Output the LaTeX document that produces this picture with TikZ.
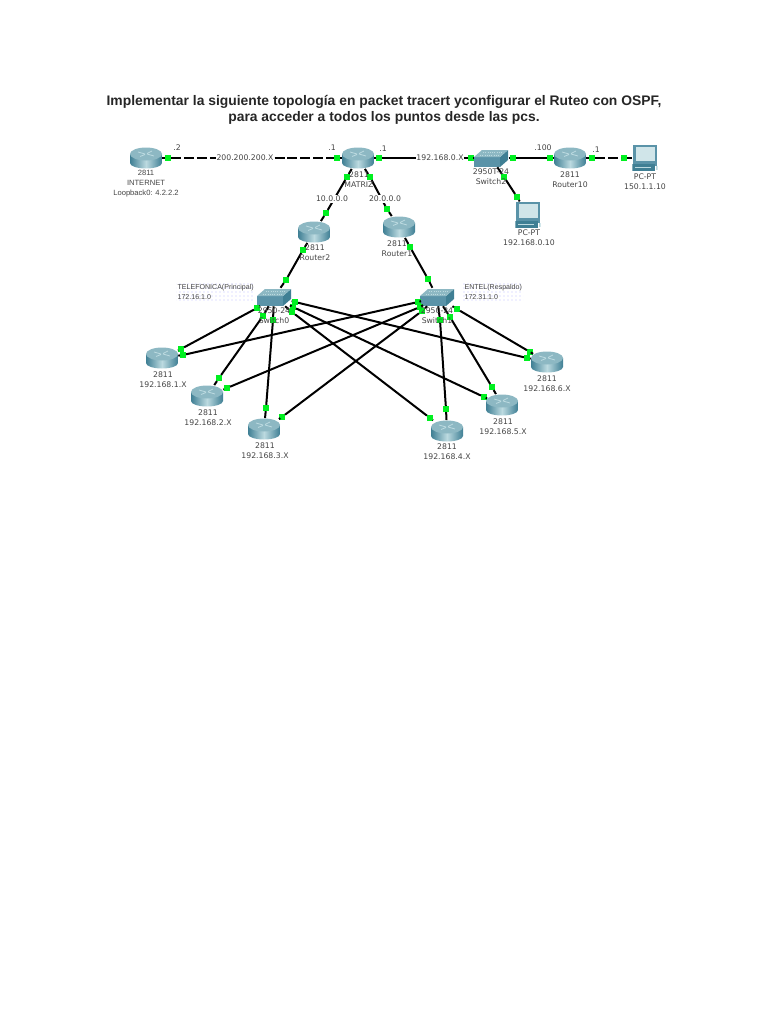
\documentclass[tikz,border=0pt]{standalone}
\usepackage{fontspec}
\setmainfont{DejaVu Sans}
\newfontfamily\titlefont{Liberation Sans}
\usetikzlibrary{patterns}

\definecolor{tealdark}{HTML}{3F7F94}
\definecolor{teallight}{HTML}{BCDAE0}
\definecolor{tealtop}{HTML}{8DB8C3}
\definecolor{tealface}{HTML}{5A93A8}
\definecolor{portgreen}{HTML}{00F020}
\definecolor{lblgray}{HTML}{444444}

\newcommand{\routerpic}{
	\begin{scope}[shift={(path picture bounding box.center)}]
		\shade[left color=tealdark, right color=tealdark, middle color=teallight]
			(-16,-4) -- (-16,5) arc[start angle=180, end angle=0, x radius=16, y radius=5.5] -- (16,-4) -- cycle;
		\fill[tealtop] (0,-4) ellipse[x radius=16, y radius=6.5];
		\draw[teallight, line width=.6pt] (-8,-6) -- (-1,-4) (1,-4) -- (8,-2) (-6,-1.5) -- (-1,-3.5) (1,-4.5) -- (6,-7);
	\end{scope}
}
\newcommand{\switchpic}{
	\begin{scope}[shift={(path picture bounding box.center)}]
		\fill[tealface] (-17,-1) -- (9,-1) -- (9,9) -- (-17,9) -- cycle;
		\fill[tealdark] (9,-1) -- (17,-8) -- (17,2) -- (9,9) -- cycle;
		\fill[tealtop] (-17,-1) -- (-9,-8) -- (17,-8) -- (9,-1) -- cycle;
		\draw[teallight, densely dotted, line width=.7pt] (-11,-3) -- (9,-3) (-8,-6) -- (12,-6);
	\end{scope}
}
\newcommand{\pcpic}{
	\begin{scope}[shift={(path picture bounding box.center)}]
		\fill[tealface] (-12,-13) -- (12,-13) -- (12,8) -- (-12,8) -- cycle;
		\fill[teallight!70!white] (-9,-11) -- (10,-11) -- (10,3) -- (-9,3) -- cycle;
		\fill[tealdark] (-13,6) -- (10,6) -- (10,13) -- (-13,13) -- cycle;
		\fill[teallight] (-10,8.5) -- (6,8.5) -- (6,10) -- (-10,10) -- cycle;
		\fill[teallight] (11,8) -- (15,8) -- (15,12) -- (11,12) -- cycle;
	\end{scope}
}

\begin{document}
\begin{tikzpicture}[x=.75pt, y=-.75pt]
	\tikzset{
		router/.style={rectangle, inner sep=0pt, minimum width=24pt, minimum height=16pt, path picture={\routerpic}},
		switchbox/.style={rectangle, inner sep=0pt, minimum width=26pt, minimum height=13.5pt, path picture={\switchpic}},
		pcbox/.style={rectangle, inner sep=0pt, minimum width=19pt, minimum height=20pt, path picture={\pcpic}},
		port/.style={rectangle, fill=portgreen, inner sep=0pt, minimum size=4.2pt},
		link/.style={black, line width=1.5pt},
		dashlink/.style={link, dash pattern=on 7.5pt off 2.2pt},
		lbl/.style={font=\fontsize{5.8}{7.5}\selectfont, text=lblgray, align=center, inner sep=0pt},
		thinlbl/.style={lbl, font=\titlefont\fontsize{5.7}{7.5}\selectfont},
		netlbl/.style={lbl, fill=white, inner sep=.7pt},
		note/.style={lbl, font=\titlefont\fontsize{5.3}{7.5}\selectfont, align=left, anchor=west, inner sep=1pt, pattern=dots, pattern color=blue!25},
		heading/.style={font=\titlefont\bfseries\fontsize{10.4}{12.2}\selectfont, text=black!85, align=center, inner sep=0pt}
	}
	\useasboundingbox (0,0) rectangle (768,1024);

	\node[heading] (title) at (384,109.5) {Implementar la siguiente topología en packet tracert yconfigurar el Ruteo con OSPF,\\para acceder a todos los puntos desde las pcs.};

	% devices
	\node[router] (inet) at (146,158) {};
	\node[router] (matriz) at (358,158) {};
	\node[router] (rtwo) at (314,232) {};
	\node[router] (rone) at (399,227) {};
	\node[router] (rten) at (570,158) {};
	\node[switchbox] (swtwo) at (491,158) {};
	\node[switchbox] (swzero) at (274,297) {};
	\node[switchbox] (swone) at (437,297) {};
	\node[pcbox] (pcright) at (645,158) {};
	\node[pcbox] (pclow) at (528,215) {};
	\node[router] (lan1) at (162,358) {};
	\node[router] (lan2) at (207,396) {};
	\node[router] (lan3) at (264,429) {};
	\node[router] (lan4) at (447,431) {};
	\node[router] (lan5) at (502,405) {};
	\node[router] (lan6) at (547,362) {};

	% ports
	\node[port] (pa1) at (168,158) {};
	\node[port] (pa2) at (337,158) {};
	\node[port] (pb1) at (379,158) {};
	\node[port] (pb2) at (471,158) {};
	\node[port] (pc1) at (513,158) {};
	\node[port] (pc2) at (550,158) {};
	\node[port] (pd1) at (592,158) {};
	\node[port] (pd2) at (624,158) {};
	\node[port] (pe1) at (504,177) {};
	\node[port] (pe2) at (517,197) {};
	\node[port] (pf1) at (347,177) {};
	\node[port] (pf2) at (326,213) {};
	\node[port] (pg1) at (370,177) {};
	\node[port] (pg2) at (387,209) {};
	\node[port] (ph1) at (303,250) {};
	\node[port] (ph2) at (286,280) {};
	\node[port] (pi1) at (410,247) {};
	\node[port] (pi2) at (428,279) {};

	\node[port] (z1) at (257,308) {};
	\node[port] (z2) at (263,316) {};
	\node[port] (z3) at (273,320) {};
	\node[port] (z4) at (292,312) {};
	\node[port] (z5) at (293,307) {};
	\node[port] (z6) at (295,302) {};
	\node[port] (o1) at (418,302) {};
	\node[port] (o2) at (420,307) {};
	\node[port] (o3) at (422,311) {};
	\node[port] (o4) at (440,320) {};
	\node[port] (o5) at (450,317) {};
	\node[port] (o6) at (457,309) {};

	\node[port] (a1) at (181,349) {};
	\node[port] (b1) at (183,355) {};
	\node[port] (a2) at (219,378) {};
	\node[port] (b2) at (227,388) {};
	\node[port] (a3) at (266,408) {};
	\node[port] (b3) at (282,417) {};
	\node[port] (a4) at (430,418) {};
	\node[port] (b4) at (446,409) {};
	\node[port] (a5) at (484,397) {};
	\node[port] (b5) at (492,387) {};
	\node[port] (a6) at (527,358) {};
	\node[port] (b6) at (530,352) {};

	% links
	\draw[dashlink] (inet) -- (pa1) -- (pa2) -- (matriz);
	\draw[link] (matriz) -- (pb1) -- (pb2) -- (swtwo);
	\draw[link] (swtwo) -- (pc1) -- (pc2) -- (rten);
	\draw[dashlink] (rten) -- (pd1) -- (pd2) -- (pcright);
	\draw[link] (swtwo) -- (pe1) -- (pe2) -- (pclow);
	\draw[link] (matriz) -- (pf1) -- (pf2) -- (rtwo);
	\draw[link] (matriz) -- (pg1) -- (pg2) -- (rone);
	\draw[link] (rtwo) -- (ph1) -- (ph2) -- (swzero);
	\draw[link] (rone) -- (pi1) -- (pi2) -- (swone);

	\draw[link] (swzero) -- (z1) -- (a1) -- (lan1);
	\draw[link] (swzero) -- (z2) -- (a2) -- (lan2);
	\draw[link] (swzero) -- (z3) -- (a3) -- (lan3);
	\draw[link] (swzero) -- (z4) -- (a4) -- (lan4);
	\draw[link] (swzero) -- (z5) -- (a5) -- (lan5);
	\draw[link] (swzero) -- (z6) -- (a6) -- (lan6);
	\draw[link] (swone) -- (o1) -- (b1) -- (lan1);
	\draw[link] (swone) -- (o2) -- (b2) -- (lan2);
	\draw[link] (swone) -- (o3) -- (b3) -- (lan3);
	\draw[link] (swone) -- (o4) -- (b4) -- (lan4);
	\draw[link] (swone) -- (o5) -- (b5) -- (lan5);
	\draw[link] (swone) -- (o6) -- (b6) -- (lan6);

	% labels
	\node[netlbl] (net1) at (245,158) {200.200.200.X};
	\node[netlbl] (net2) at (440,158) {192.168.0.X};
	\node[netlbl] (net3) at (332,199) {10.0.0.0};
	\node[netlbl] (net4) at (385,199) {20.0.0.0};
	\node[lbl] (dot1) at (177,148) {.2};
	\node[lbl] (dot2) at (332,148) {.1};
	\node[lbl] (dot3) at (383,149) {.1};
	\node[lbl] (dot4) at (543,148) {.100};
	\node[lbl] (dot5) at (596,150) {.1};

	\node[thinlbl] (tinet) at (146,184) {2811\\INTERNET\\Loopback0: 4.2.2.2};
	\node[lbl] (tmatriz) at (359,180) {2811\\MATRIZ};
	\node[lbl] (trtwo) at (315,253) {2811\\Router2};
	\node[lbl] (trone) at (397,249) {2811\\Router1};
	\node[lbl] (tswtwo) at (491,177) {2950T-24\\Switch2};
	\node[lbl] (trten) at (570,180) {2811\\Router10};
	\node[lbl] (tpcright) at (645,182) {PC-PT\\150.1.1.10};
	\node[lbl] (tpclow) at (529,238) {PC-PT\\192.168.0.10};
	\node[lbl] (tswzero) at (274,316) {2950-24\\Switch0};
	\node[lbl] (tswone) at (437,316) {2950-24\\Switch1};
	\node[note] (tel) at (176,292) {TELEFONICA(Principal)\\172.16.1.0};
	\node[note] (ent) at (463,292) {ENTEL(Respaldo)\\172.31.1.0};
	\node[lbl] (tlan1) at (163,380) {2811\\192.168.1.X};
	\node[lbl] (tlan2) at (208,418) {2811\\192.168.2.X};
	\node[lbl] (tlan3) at (265,451) {2811\\192.168.3.X};
	\node[lbl] (tlan4) at (447,452) {2811\\192.168.4.X};
	\node[lbl] (tlan5) at (503,427) {2811\\192.168.5.X};
	\node[lbl] (tlan6) at (547,384) {2811\\192.168.6.X};
\end{tikzpicture}
\end{document}
